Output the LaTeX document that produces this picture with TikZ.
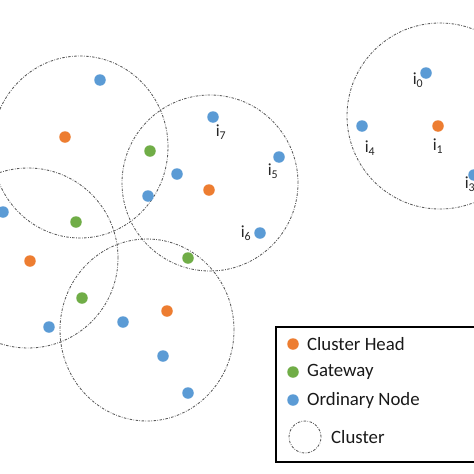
\documentclass[tikz,border=0pt]{standalone}
\usepackage{fontspec}
\setmainfont{Carlito}
\usetikzlibrary{positioning}

\definecolor{headorange}{RGB}{237,125,49}
\definecolor{gatewaygreen}{RGB}{112,173,71}
\definecolor{nodeblue}{RGB}{91,155,213}

\tikzset{
	dot/.style={circle,inner sep=0pt,minimum size=11.5pt},
	chead/.style={dot,fill=headorange},
	gway/.style={dot,fill=gatewaygreen},
	onode/.style={dot,fill=nodeblue},
	cluster/.style={draw=black!65,line width=0.85pt,dash pattern=on 2.5pt off 1.4pt on 0.7pt off 1.4pt},
	idx/.style={inner sep=0pt,text=black!85,font=\fontsize{17}{19}\selectfont},
	legtext/.style={anchor=west,inner sep=0pt,text=black!90,font=\fontsize{18.8}{21}\selectfont}
}

\begin{document}
\begin{tikzpicture}[x=1pt,y=-1pt]
\clip (0,0) rectangle (474,474);
\fill[white] (0,0) rectangle (474,474);

% CLUSTERS
\draw[cluster] (80,147) ellipse [x radius=88pt, y radius=91pt];
\draw[cluster] (210,183) circle [radius=88pt];
\draw[cluster] (28,258) circle [radius=90pt];
\draw[cluster] (147,330) ellipse [x radius=87pt, y radius=91pt];
\draw[cluster] (440,116) circle [radius=93pt];

% CLUSTER HEADS
\node[chead] (ch0) at (65,137) {};
\node[chead] (ch1) at (209,190) {};
\node[chead] (ch2) at (30,261) {};
\node[chead] (ch3) at (167,311) {};
\node[chead] (ch4) at (438,126) {};

% GATEWAYS
\node[gway] (gw0) at (150,151) {};
\node[gway] (gw1) at (76,222) {};
\node[gway] (gw2) at (188,258) {};
\node[gway] (gw3) at (82,298) {};

% ORDINARY NODES
\node[onode] (on0) at (100,80) {};
\node[onode] (on1) at (213,117) {};
\node[onode] (on2) at (279,157) {};
\node[onode] (on3) at (177,174) {};
\node[onode] (on4) at (148,196) {};
\node[onode] (on5) at (3,212) {};
\node[onode] (on6) at (260,233) {};
\node[onode] (on7) at (49,327) {};
\node[onode] (on8) at (123,322) {};
\node[onode] (on9) at (163,356) {};
\node[onode] (on10) at (188,393) {};
\node[onode] (on11) at (426,73) {};
\node[onode] (on12) at (362,126) {};
\node[onode] (on13) at (474,175) {};

% INDICES
\node[idx] (l7) at (221,132) {i\textsubscript{7}};
\node[idx] (l5) at (273,171) {i\textsubscript{5}};
\node[idx] (l6) at (246,233) {i\textsubscript{6}};
\node[idx] (l0) at (418,80) {i\textsubscript{0}};
\node[idx] (l4) at (370,148) {i\textsubscript{4}};
\node[idx] (l1) at (438,146) {i\textsubscript{1}};
\node[idx] (l3) at (470,184) {i\textsubscript{3}};

% LEGEND
\draw[line width=2.5pt] (276,327) rectangle (490,462);
\node[chead] (kch) at (293,344) {};
\node[legtext,right=8pt of kch] (tch) {Cluster Head};
\node[gway] (kgw) at (293,372) {};
\node[legtext,right=8pt of kgw] (tgw) {Gateway};
\node[onode] (kon) at (293,400) {};
\node[legtext,right=8pt of kon] (ton) {Ordinary Node};
\draw[cluster] (305,437) circle [radius=16pt];
\node[legtext] (tcl) at (331,437) {Cluster};

\end{tikzpicture}
\end{document}
